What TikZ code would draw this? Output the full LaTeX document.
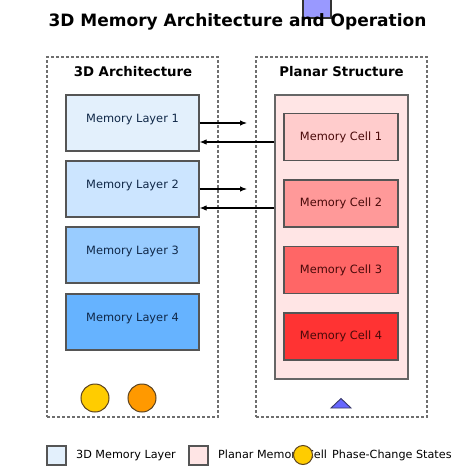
\documentclass[tikz,border=0pt]{standalone}
\usepackage{fontspec}
\setmainfont{DejaVu Sans}
\usetikzlibrary{arrows.meta}
\definecolor{lay1}{HTML}{E3F0FC}
\definecolor{lay2}{HTML}{CCE5FF}
\definecolor{lay3}{HTML}{99CCFF}
\definecolor{lay4}{HTML}{66B3FF}
\definecolor{cellbg}{HTML}{FFE5E5}
\definecolor{cell1}{HTML}{FFCCCC}
\definecolor{cell2}{HTML}{FF9999}
\definecolor{cell3}{HTML}{FF6666}
\definecolor{cell4}{HTML}{FF3333}
\definecolor{gold}{HTML}{FFCC00}
\definecolor{orng}{HTML}{FF9900}
\definecolor{tri}{HTML}{6666FF}
\definecolor{sq}{HTML}{9999FF}
\definecolor{edge}{HTML}{555555}
\definecolor{laytxt}{HTML}{102848}
\definecolor{celltxt}{HTML}{4A0A0A}
\tikzset{
  panel/.style={draw=edge!85, line width=1.2pt, dash pattern=on 3pt off 2pt},
  layerbox/.style={draw=edge, line width=1.2pt, minimum width=133pt, minimum height=56pt, inner sep=0pt},
  cellbox/.style={draw=edge, line width=1.2pt, minimum width=114pt, minimum height=47pt, inner sep=0pt, text=celltxt, font=\fontsize{11.4}{13}\selectfont},
  lbl/.style={font=\fontsize{11.4}{13}\selectfont, text=laytxt, inner sep=0pt},
  ttl/.style={font=\bfseries\fontsize{13.3}{16}\selectfont, inner sep=0pt},
  conn/.style={line width=1.1pt, -{Latex[length=7pt,width=5.5pt]}},
  dot/.style={circle, draw=edge!60!orng!60!black, line width=1pt, inner sep=0pt},
  legtxt/.style={font=\fontsize{11.2}{13}\selectfont, anchor=west, inner sep=0pt},
  legsq/.style={draw=edge, line width=1.2pt, minimum size=19pt, inner sep=0pt}
}
\begin{document}
\begin{tikzpicture}[x=1pt,y=-1pt]
\useasboundingbox (0,0) rectangle (474,474);
% top square partially visible
\node[draw=edge!60!black, fill=sq, line width=1.1pt, minimum width=28pt, minimum height=26pt, inner sep=0pt] (topsq) at (317,5) {};
\node[font=\bfseries\fontsize{17}{20}\selectfont, inner sep=0pt] (title) at (237.5,22) {3D Memory Architecture and Operation};
% panels
\node[panel, minimum width=171pt, minimum height=360pt, inner sep=0pt] (leftp) at (132.5,237) {};
\node[panel, minimum width=171pt, minimum height=360pt, inner sep=0pt] (rightp) at (341.5,237) {};
\node[ttl] (lt) at (133,71.5) {3D Architecture};
\node[ttl] (rt) at (341.5,71.5) {Planar Structure};
% layers
\node[layerbox, fill=lay1] (L1) at (132.5,123) {};
\node[layerbox, fill=lay2] (L2) at (132.5,189) {};
\node[layerbox, fill=lay3] (L3) at (132.5,255) {};
\node[layerbox, fill=lay4] (L4) at (132.5,322) {};
\node[lbl] (L1t) at (132.5,119.5) {Memory Layer 1};
\node[lbl] (L2t) at (132.5,185.5) {Memory Layer 2};
\node[lbl] (L3t) at (132.5,251.5) {Memory Layer 3};
\node[lbl] (L4t) at (132.5,318.5) {Memory Layer 4};
% circles
\node[dot, fill=gold, minimum size=28pt] (c1) at (95,398) {};
\node[dot, fill=orng, minimum size=28pt] (c2) at (142,398) {};
% planar
\node[draw=edge!90, fill=cellbg, line width=1.2pt, minimum width=133pt, minimum height=284pt, inner sep=0pt] (plane) at (341.5,237) {};
\node[cellbox, fill=cell1] (C1) at (341,137) {Memory Cell 1};
\node[cellbox, fill=cell2] (C2) at (341,203.5) {Memory Cell 2};
\node[cellbox, fill=cell3] (C3) at (341,270) {Memory Cell 3};
\node[cellbox, fill=cell4] (C4) at (341,336.5) {Memory Cell 4};
% triangle
\draw[draw=edge!50!tri!60!black, fill=tri, line width=0.9pt] (331,408) -- (341,398.5) -- (351,408) -- cycle;
% arrows
\coordinate (a1) at (247,123);
\coordinate (a2) at (247,189);
\draw[conn] (L1.east |- a1) -- (a1);
\draw[conn] (plane.west |- 0,142) -- (L1.east |- 0,142);
\draw[conn] (L2.east |- a2) -- (a2);
\draw[conn] (plane.west |- 0,208) -- (L2.east |- 0,208);
% legend
\node[legsq, fill=lay1] (lg1) at (56.5,455.5) {};
\node[legtxt] (lg1t) at (76,455.5) {3D Memory Layer};
\node[legsq, fill=cellbg] (lg2) at (198.5,455.5) {};
\node[legtxt] (lg2t) at (218,455.5) {Planar Memory Cell};
\node[dot, fill=gold, minimum size=19pt] (lg3) at (303,455) {};
\node[legtxt] (lg3t) at (332,455.5) {Phase-Change States};
\end{tikzpicture}
\end{document}
